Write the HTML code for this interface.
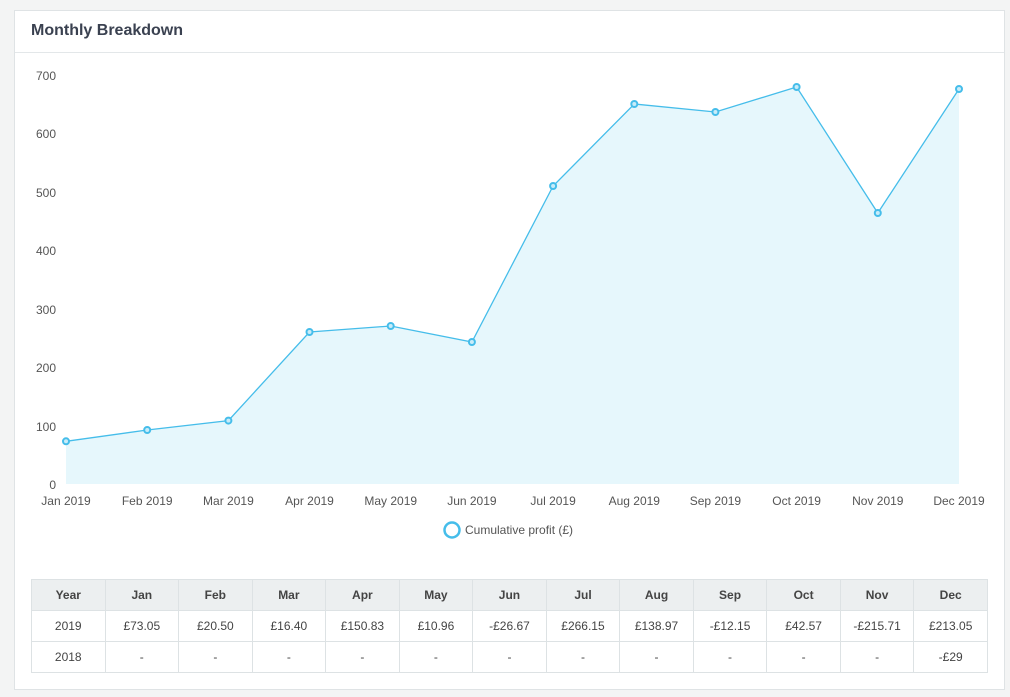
<!DOCTYPE html>
<html><head><meta charset="utf-8"><style>
body{margin:0;width:1010px;height:697px;background:#f3f4f4;font-family:"Liberation Sans",sans-serif;position:relative;overflow:hidden}
.panel{position:absolute;left:14px;top:10px;width:989px;height:678px;background:#fff;border:1px solid #dfe3e5}
.hd{position:absolute;left:0;top:0;width:989px;height:41px;border-bottom:1px solid #e3e7e9}
.hd span{position:absolute;left:16px;top:11px;font-size:16px;font-weight:bold;color:#3a4150}
table{position:absolute;left:31px;top:579px;width:957px;table-layout:fixed;border-collapse:collapse;font-size:12px;color:#444}
td,th{border:1px solid #dde2e4;height:30px;text-align:center;padding:0}
th{background:#eceff0;font-weight:bold;color:#444}
</style></head><body>
<div class="panel">
<div class="hd"><span>Monthly Breakdown</span></div>
</div>
<svg width="1010" height="697" style="position:absolute;left:0;top:0" font-family="Liberation Sans, sans-serif" font-size="12" fill="#555">
<g text-anchor="end">
<text x="56" y="80">700</text><text x="56" y="138">600</text><text x="56" y="197">500</text><text x="56" y="255">400</text><text x="56" y="314">300</text><text x="56" y="372">200</text><text x="56" y="431">100</text><text x="56" y="489">0</text>
</g>
<polygon points="66,484 66,441.3 147.2,430 228.4,420.6 309.5,332 390.7,326 471.9,342 553.1,186 634.3,104 715.4,112 796.6,87 877.8,213 959,89 959,484" fill="#e6f7fc"/>
<polyline points="66,441.3 147.2,430 228.4,420.6 309.5,332 390.7,326 471.9,342 553.1,186 634.3,104 715.4,112 796.6,87 877.8,213 959,89" fill="none" stroke="#45bdea" stroke-width="1.3"/>
<g fill="#c8ecf9" stroke="#45bdea" stroke-width="2">
<circle cx="66" cy="441.3" r="3"/><circle cx="147.2" cy="430" r="3"/><circle cx="228.4" cy="420.6" r="3"/><circle cx="309.5" cy="332" r="3"/><circle cx="390.7" cy="326" r="3"/><circle cx="471.9" cy="342" r="3"/><circle cx="553.1" cy="186" r="3"/><circle cx="634.3" cy="104" r="3"/><circle cx="715.4" cy="112" r="3"/><circle cx="796.6" cy="87" r="3"/><circle cx="877.8" cy="213" r="3"/><circle cx="959" cy="89" r="3"/>
</g>
<g text-anchor="middle">
<text x="66" y="505">Jan 2019</text><text x="147.2" y="505">Feb 2019</text><text x="228.4" y="505">Mar 2019</text><text x="309.5" y="505">Apr 2019</text><text x="390.7" y="505">May 2019</text><text x="471.9" y="505">Jun 2019</text><text x="553.1" y="505">Jul 2019</text><text x="634.3" y="505">Aug 2019</text><text x="715.4" y="505">Sep 2019</text><text x="796.6" y="505">Oct 2019</text><text x="877.8" y="505">Nov 2019</text><text x="959" y="505">Dec 2019</text>
</g>
<circle cx="452" cy="530" r="7.5" fill="none" stroke="#45bdea" stroke-width="2.5"/>
<text x="465" y="534">Cumulative profit (£)</text>
</svg>
<table>
<tr><th>Year</th><th>Jan</th><th>Feb</th><th>Mar</th><th>Apr</th><th>May</th><th>Jun</th><th>Jul</th><th>Aug</th><th>Sep</th><th>Oct</th><th>Nov</th><th>Dec</th></tr>
<tr><td>2019</td><td>£73.05</td><td>£20.50</td><td>£16.40</td><td>£150.83</td><td>£10.96</td><td>-£26.67</td><td>£266.15</td><td>£138.97</td><td>-£12.15</td><td>£42.57</td><td>-£215.71</td><td>£213.05</td></tr>
<tr><td>2018</td><td>-</td><td>-</td><td>-</td><td>-</td><td>-</td><td>-</td><td>-</td><td>-</td><td>-</td><td>-</td><td>-</td><td>-£29</td></tr>
</table>
</body></html>
